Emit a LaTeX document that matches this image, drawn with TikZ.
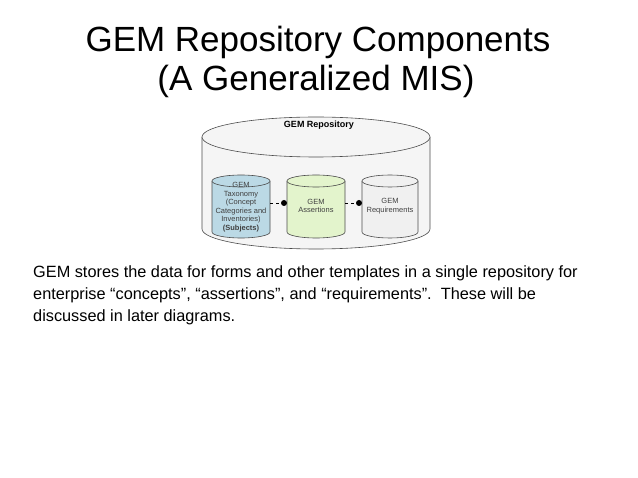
\documentclass[tikz,border=0pt]{standalone}
\usepackage{fontspec}
\setmainfont{Liberation Sans}
\begin{document}
\begin{tikzpicture}[x=1pt,y=-1pt,
  cyl/.style={draw=black!70,line width=0.6pt},
  lbl/.style={font=\fontsize{7.5}{8.5}\selectfont,align=center,text=black!75},
  dot/.style={circle,fill=black,inner sep=0pt,minimum size=6pt},
  conn/.style={dashed,line width=0.8pt}]
\useasboundingbox (0,0) rectangle (638,478);
\fill[white] (0,0) rectangle (638,478);
\node (t1) at (318,42) {\fontsize{35}{38}\selectfont GEM Repository Components};
\node (t2) at (316,81) {\fontsize{35}{38}\selectfont (A Generalized MIS)};
\def\cylinder#1#2#3#4#5#6{% xc, ytop, ybot, rx, ry, color
  \filldraw[cyl,fill=#6] (#1-#4,#2) -- (#1-#4,#3) arc[start angle=180,end angle=0,x radius=#4,y radius=#5] -- (#1+#4,#2);
  \filldraw[cyl,fill=#6] (#1,#2) ellipse[x radius=#4,y radius=#5];}
\cylinder{316}{137}{229}{114}{20}{gray!8}
\node (rep) at (319,125) {\fontsize{9}{10}\selectfont\bfseries GEM Repository};
\cylinder{241}{181}{232}{29}{6}{cyan!30!teal!30}
\cylinder{316}{181}{232}{29}{6}{yellow!45!green!20}
\cylinder{390}{181}{232}{28}{6}{gray!12}
\node[lbl] (a) at (241,207) {GEM\\Taxonomy\\(Concept\\Categories and\\Inventories)\\\textbf{(Subjects)}};
\node[lbl] (b) at (316,206) {GEM\\Assertions};
\node[lbl] (c) at (390,206) {GEM\\Requirements};
\node[dot] (d1) at (284,203) {};
\node[dot] (d2) at (359,203) {};
\draw[conn] (270,203) -- (d1);
\draw[conn] (345,203) -- (d2);
\node[anchor=north west,align=left,font=\fontsize{16.3}{22}\selectfont,inner sep=0pt] (txt) at (33,265)
{GEM stores the data for forms and other templates in a single repository for\\enterprise “concepts”, “assertions”, and “requirements”.\ \ These will be\\discussed in later diagrams.};
\end{tikzpicture}
\end{document}
